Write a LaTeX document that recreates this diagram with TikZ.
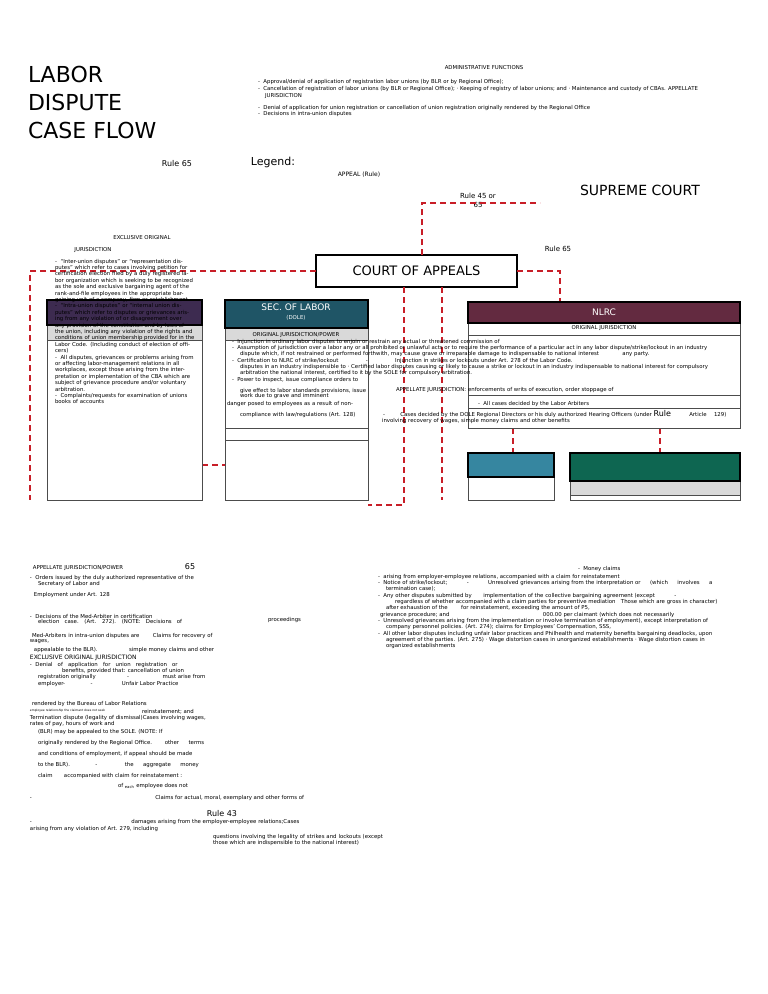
\documentclass[tikz,border=0pt]{standalone}
\usepackage{fontspec}
\setmainfont{DejaVu Sans}
\definecolor{cpurple}{RGB}{61,43,80}
\definecolor{cteal}{RGB}{31,85,102}
\definecolor{cmaroon}{RGB}{99,42,64}
\definecolor{cblue}{RGB}{54,134,160}
\definecolor{cgreen}{RGB}{14,102,81}
\definecolor{cgray}{RGB}{217,217,217}
\definecolor{cred}{RGB}{200,30,40}
\tikzset{
  tiny/.style={anchor=west,inner sep=0pt,font=\fontsize{5.4}{6.4}\selectfont},
  tinyc/.style={inner sep=0pt,font=\fontsize{5.4}{6.4}\selectfont},
  head/.style={draw=black,line width=1.2pt,text=white,font=\fontsize{9}{10}\selectfont},
  pane/.style={draw=black!70,line width=0.8pt,fill=white},
  link/.style={draw=cred,line width=1.2pt,dash pattern=on 6pt off 4pt},
}
\begin{document}
\begin{tikzpicture}[x=1pt,y=-1pt,inner sep=0pt,outer sep=0pt]
\useasboundingbox (0,0) rectangle (768,994);
\fill[white] (0,0) rectangle (768,994);

% title and legend
\node[anchor=north west,align=left,font=\fontsize{22}{28}\selectfont] (title) at (28,66) {LABOR\\DISPUTE\\CASE FLOW};
\node[tinyc,font=\fontsize{8}{9}\selectfont] (rule65a) at (177,164) {Rule 65};
\node[tinyc,font=\fontsize{11}{12}\selectfont] (legend) at (273,162) {Legend:};
\node[tinyc,font=\fontsize{6}{7}\selectfont] (appeal) at (359,175) {APPEAL (Rule)};

% supreme court and court of appeals
\node[tinyc,font=\fontsize{14}{16}\selectfont] (sc) at (640,190) {SUPREME COURT};
\node[tinyc,align=center,font=\fontsize{7}{9}\selectfont] (rule45) at (478,200) {Rule 45 or\\65};
\node[tinyc,font=\fontsize{7}{8}\selectfont] (rule65b) at (558,249) {Rule 65};
\node[draw=black,line width=2pt,minimum width=201pt,minimum height=32pt,font=\fontsize{13}{15}\selectfont] (ca) at (416.5,271) {COURT OF APPEALS};

% dashed links
\path[link] (422,255) -- (422,203) -- (540,203);
\path[link] (ca.west) -- (30,271) -- (30,500);
\path[link] (ca.east) -- (560,271) -- (560,302);
\path[link] (404,287) -- (404,505) -- (368,505);
\path[link] (442,287) -- (442,500);
\path[link] (202,465) -- (225,465);
\path[link] (513,428) -- (513,453);
\path[link] (660,428) -- (660,453);

% boxes
\path[pane] (47,325) rectangle (202,500);
\path[draw=black!70,fill=cgray] (47,325) rectangle (202,340);
\node[head,fill=cpurple,minimum width=155pt,minimum height=25pt,anchor=north west] (blr) at (47,300) {};
\path[pane] (225,328) rectangle (368,500);
\path[draw=black!70,fill=cgray] (225,328) rectangle (368,340);
\path[draw=black!70] (225,428) -- (368,428) (225,440) -- (368,440);
\node[head,fill=cteal,minimum width=143pt,minimum height=28pt,anchor=north west] (sec) at (225,300) {};
\path[pane] (468,323) rectangle (740,428);
\path[draw=black!70] (468,335) -- (740,335) (468,395) -- (740,395) (468,408) -- (740,408);
\node[head,fill=cmaroon,minimum width=272pt,minimum height=21pt,anchor=north west] (nlrc) at (468,302) {NLRC};
\path[pane] (468,477) rectangle (554,500);
\node[head,fill=cblue,minimum width=86pt,minimum height=24pt,anchor=north west] (ra) at (468,453) {};
\path[pane] (570,481) rectangle (740,500);
\path[draw=black!70,fill=cgray] (570,481) rectangle (740,495);
\node[head,fill=cgreen,minimum width=170pt,minimum height=28pt,anchor=north west] (la) at (570,453) {};

% administrative functions
\node[tinyc] (admin) at (484,68) {ADMINISTRATIVE FUNCTIONS};
\node[tiny] (ad1) at (258,82) {-\ \ Approval/denial of application of registration labor unions (by BLR or by Regional Office);};
\node[tiny] (ad2) at (258,89) {-\ \ Cancellation of registration of labor unions (by BLR or Regional Office); \textperiodcentered\ Keeping of registry of labor unions; and \textperiodcentered\ Maintenance and custody of CBAs. APPELLATE};
\node[tiny] (ad3) at (265,96) {JURISDICTION};
\node[tiny] (ad4) at (258,108) {-\ \ Denial of application for union registration or cancellation of union registration originally rendered by the Regional Office};
\node[tiny] (ad5) at (258,114) {-\ \ Decisions in intra-union disputes};

% BLR text
\node[tinyc] (blr1) at (142,238) {EXCLUSIVE ORIGINAL};
\node[tinyc] (blr2) at (93,250) {JURISDICTION};
\node[tiny,anchor=north west,text width=140pt,align=left] (blr3) at (55,259) {-\ \ ``Inter-union disputes'' or ``representation disputes'' which refer to cases involving petition for certification election filed by a duly registered labor organization which is seeking to be recognized as the sole and exclusive bargaining agent of the rank-and-file employees in the appropriate bargaining unit of a company, firm or establishment.\\-\ \ ``Intra-union disputes'' or ``internal union disputes'' which refer to disputes or grievances arising from any violation of or disagreement over any provision of the constitution and by-laws of the union, including any violation of the rights and conditions of union membership provided for in the Labor Code. (Including conduct of election of officers)\\-\ \ All disputes, grievances or problems arising from or affecting labor-management relations in all workplaces, except those arising from the interpretation or implementation of the CBA which are subject of grievance procedure and/or voluntary arbitration.\\-\ \ Complaints/requests for examination of unions books of accounts};

% sec. of labor text
\node[text=white,font=\fontsize{9}{10}\selectfont] (secname) at (296,307) {SEC. OF LABOR};
\node[text=white,tinyc] (dole) at (296,318) {(DOLE)};
\node[tinyc] (secorig) at (296,335) {ORIGINAL JURISDICTION/POWER};
\node[tiny] (s1) at (232,342) {-\ \ Injunction in ordinary labor disputes to enjoin or restrain any actual or threatened commission of};
\node[tiny] (s2) at (232,348) {-\ \ Assumption of jurisdiction over a labor any or all prohibited or unlawful acts or to require the performance of a particular act in any labor dispute/strike/lockout in an industry};
\node[tiny] (s3) at (240,354) {dispute which, if not restrained or performed forthwith, may cause grave or irreparable damage to indispensable to national interest \hspace{20pt} any party.};
\node[tiny] (s4) at (232,361) {-\ \ Certification to NLRC of strike/lockout \hspace{24pt} - \hspace{24pt} Injunction in strikes or lockouts under Art. 278 of the Labor Code.};
\node[tiny] (s5) at (240,367) {disputes in an industry indispensible to \textperiodcentered\ Certified labor disputes causing or likely to cause a strike or lockout in an industry indispensable to national interest for compulsory};
\node[tiny] (s6) at (240,373) {arbitration the national interest, certified to it by the SOLE for compulsory arbitration.};
\node[tiny] (s7) at (232,380) {-\ \ Power to inspect, issue compliance orders to};
\node[tiny] (s8) at (240,391) {give effect to labor standards provisions, issue};
\node[tiny] (s9) at (240,396) {work due to grave and imminent};
\node[tiny] (s10) at (227,404) {danger posed to employees as a result of non-};
\node[tiny] (s11) at (240,415) {compliance with law/regulations (Art. 128)};

% NLRC text
\node[tinyc] (norig) at (604,328) {ORIGINAL JURISDICTION};
\node[tiny] (n1) at (396,390) {APPELLATE JURISDICTION: enforcements of writs of execution, order stoppage of};
\node[tiny] (n2) at (478,404) {-\ \ All cases decided by the Labor Arbiters};
\node[tiny] (n3) at (383,414) {- \hspace{12pt} Cases decided by the DOLE Regional Directors or his duly authorized Hearing Officers (under \fontsize{8}{9}\selectfont Rule \fontsize{5.4}{6.4}\selectfont\hspace{14pt} Article \hspace{4pt} 129)};
\node[tiny] (n4) at (382,421) {involving recovery of wages, simple money claims and other benefits};

% lower page text, left
\node[tinyc] (ap) at (78,568) {APPELLATE JURISDICTION/POWER};
\node[tinyc,font=\fontsize{8}{9}\selectfont] (n65) at (190,567) {65};
\node[tiny] (l1) at (30,578) {-\ \ Orders issued by the duly authorized representative of the};
\node[tiny] (l2) at (38,584) {Secretary of Labor and};
\node[tiny] (l3) at (34,595) {Employment under Art. 128};
\node[tiny] (l4) at (30,616) {-\ \ Decisions of the Med-Arbiter in certification};
\node[tiny] (l5) at (38,622) {election \ \ case. \ \ (Art. \ \ 272). \ \ (NOTE: \ \ Decisions \ \ of};
\node[tiny] (l5b) at (268,620) {proceedings};
\node[tiny] (l6) at (32,636) {Med-Arbiters in intra-union disputes are \hspace{10pt} Claims for recovery of};
\node[tiny] (l7) at (30,642) {wages,};
\node[tiny] (l8) at (34,650) {appealable to the BLR). \hspace{28pt} simple money claims and other};
\node[tiny,font=\fontsize{6}{7}\selectfont] (l9) at (30,658) {EXCLUSIVE ORIGINAL JURISDICTION};
\node[tiny] (l10) at (30,665) {-\ \ Denial \ \ of \ \ application \ \ for \ \ union \ \ registration \ \ or};
\node[tiny] (l11) at (62,671) {benefits, provided that: cancellation of union};
\node[tiny] (l12) at (38,677) {registration originally \hspace{28pt} - \hspace{30pt} must arise from};
\node[tiny] (l13) at (38,684) {employer- \hspace{22pt} - \hspace{26pt} Unfair Labor Practice};
\node[tiny] (l14) at (32,704) {rendered by the Bureau of Labor Relations};
\node[tiny,font=\fontsize{3}{3.5}\selectfont] (l15) at (30,711) {employee relationship the claimant does not seek};
\node[tiny] (l15b) at (142,712) {reinstatement; and};
\node[tiny] (l16) at (30,718) {Termination dispute (legality of dismissal)Cases involving wages,};
\node[tiny] (l17) at (30,724) {rates of pay, hours of work and};
\node[tiny] (l18) at (38,732) {(BLR) may be appealed to the SOLE. (NOTE: If};
\node[tiny] (l19) at (38,743) {originally rendered by the Regional Office. \hspace{8pt} other \hspace{6pt} terms};
\node[tiny] (l20) at (38,754) {and conditions of employment, if appeal should be made};
\node[tiny] (l21) at (38,765) {to the BLR). \hspace{22pt} - \hspace{24pt} the \hspace{6pt} aggregate \hspace{6pt} money};
\node[tiny] (l22) at (38,776) {claim \hspace{8pt} accompanied with claim for reinstatement :};
\node[tiny] (l23) at (118,786) {of \textsubscript{each} employee does not};
\node[tiny] (l24) at (30,798) {- \hspace{120pt} Claims for actual, moral, exemplary and other forms of};
\node[tinyc,font=\fontsize{8}{9}\selectfont] (rule43) at (222,814) {Rule 43};
\node[tiny] (l25) at (30,822) {- \hspace{96pt} damages arising from the employer-employee relations;Cases};
\node[tiny] (l26) at (30,829) {arising from any violation of Art. 279, including};
\node[tiny,anchor=north west,text width=170pt,align=justify] (l27) at (213,834) {questions involving the legality of strikes and lockouts (except those which are indispensible to the national interest)};

% lower page text, right
\node[tiny] (r0) at (578,569) {-\ \ Money claims};
\node[tiny] (r1) at (378,577) {-\ \ arising from employer-employee relations, accompanied with a claim for reinstatement};
\node[tiny] (r2) at (378,583) {-\ \ Notice of strike/lockout; \hspace{16pt} - \hspace{16pt} Unresolved grievances arising from the interpretation or \hspace{6pt} (which \hspace{6pt} involves \hspace{6pt} a};
\node[tiny] (r3) at (386,589) {termination case);};
\node[tiny] (r4) at (378,596) {-\ \ Any other disputes submitted by \hspace{8pt} implementation of the collective bargaining agreement (except \hspace{16pt} -};
\node[tiny] (r5) at (395,602) {regardless of whether accompanied with a claim parties for preventive mediation \hspace{2pt} Those which are gross in character)};
\node[tiny] (r6) at (386,608) {after exhaustion of the \hspace{10pt} for reinstatement, exceeding the amount of P5,};
\node[tiny] (r7) at (380,615) {grievance procedure; and \hspace{90pt} 000.00 per claimant (which does not necessarily};
\node[tiny] (r8) at (378,621) {-\ \ Unresolved grievances arising from the implementation or involve termination of employment), except interpretation of};
\node[tiny] (r9) at (386,627) {company personnel policies. (Art. 274); claims for Employees' Compensation, SSS,};
\node[tiny] (r10) at (378,634) {-\ \ All other labor disputes including unfair labor practices and Philhealth and maternity benefits bargaining deadlocks, upon};
\node[tiny] (r11) at (386,640) {agreement of the parties. (Art. 275) \textperiodcentered\ Wage distortion cases in unorganized establishments \textperiodcentered\ Wage distortion cases in};
\node[tiny] (r12) at (386,646) {organized establishments};
\end{tikzpicture}
\end{document}
